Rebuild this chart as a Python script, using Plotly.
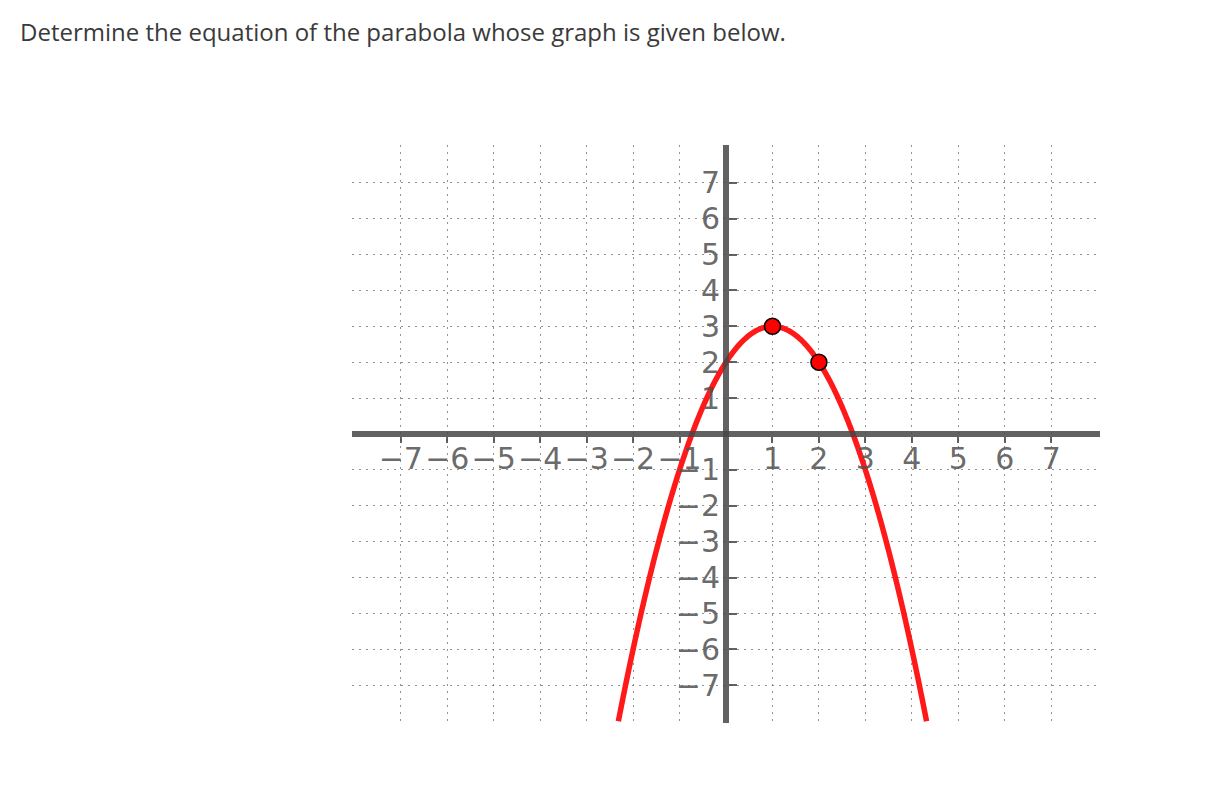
import numpy as np
import plotly.graph_objects as go

# ---- data ----
title_text = "Determine the equation of the parabola whose graph is given below."
vertex = (1, 3)          # marked vertex of the parabola
other_point = (2, 2)     # second marked point
x_ticks = [-7, -6, -5, -4, -3, -2, -1, 1, 2, 3, 4, 5, 6, 7]
x_ticktext = ["\u22127", "\u22126", "\u22125", "\u22124", "\u22123", "\u22122", "\u22121",
              "1", "2", "3", "4", "5", "6", "7"]
y_ticks = [-7, -6, -5, -4, -3, -2, -1, 1, 2, 3, 4, 5, 6, 7]
y_ticktext = ["\u22127", "\u22126", "\u22125", "\u22124", "\u22123", "\u22122", "\u22121",
              "1", "2", "3", "4", "5", "6", "7"]
x_range = [-8.05, 8.05]
y_range = [-8.05, 8.05]
curve_bottom = -8

# parabola y = a (x-h)^2 + k through the two marked points
h, k = vertex
a = (other_point[1] - k) / (other_point[0] - h) ** 2
half_w = np.sqrt((curve_bottom - k) / a)
xs = np.linspace(h - half_w, h + half_w, 600)
ys = a * (xs - h) ** 2 + k

axis_col = "rgba(70,70,70,0.85)"
lab_col = "rgba(80,80,80,0.85)"
grid_col = "rgba(120,120,120,0.8)"

fig = go.Figure()
fig.add_trace(go.Scatter(x=xs, y=ys, mode="lines",
                         line=dict(color="rgb(255,25,25)", width=5.5, simplify=False),
                         hoverinfo="skip", showlegend=False))
fig.add_trace(go.Scatter(x=[vertex[0], other_point[0]], y=[vertex[1], other_point[1]],
                         mode="markers",
                         marker=dict(color="rgb(255,0,0)", size=16,
                                     line=dict(color="black", width=1.5)),
                         showlegend=False))

xpos = (0 - y_range[0]) / (y_range[1] - y_range[0])
ypos = (0 - x_range[0]) / (x_range[1] - x_range[0])

fig.update_layout(
    width=1231, height=791,
    margin=dict(l=352, r=131, t=145, b=68),
    paper_bgcolor="white", plot_bgcolor="white",
    title=dict(text=title_text, xref="container", yref="container",
               x=20 / 1231, xanchor="left", y=1 - 33 / 791, yanchor="middle",
               font=dict(family="Open Sans", size=24, color="#3a3a3a")),
    xaxis=dict(range=x_range, anchor="free", position=xpos,
               tickmode="array", tickvals=x_ticks, ticktext=x_ticktext,
               tickangle=0, ticks="outside", ticklen=6, tickwidth=2, tickcolor=axis_col,
               ticklabelstandoff=-10,
               tickfont=dict(family="DejaVu Sans", size=30, color=lab_col),
               showline=True, linecolor=axis_col, linewidth=6,
               showgrid=True, gridcolor=grid_col, gridwidth=1, griddash="2px,5px",
               zeroline=False, fixedrange=True),
    yaxis=dict(range=y_range, anchor="free", position=ypos,
               tickmode="array", tickvals=y_ticks, ticktext=y_ticktext,
               ticks="inside", ticklen=8, tickwidth=2, tickcolor=axis_col,
               ticklabelstandoff=-3,
               tickfont=dict(family="DejaVu Sans", size=30, color=lab_col),
               showline=True, linecolor=axis_col, linewidth=6,
               showgrid=True, gridcolor=grid_col, gridwidth=1, griddash="2px,5px",
               zeroline=False, fixedrange=True),
)

fig.write_html("out.html", config={"displayModeBar": False},
               post_script="document.body.style.margin='0';")
